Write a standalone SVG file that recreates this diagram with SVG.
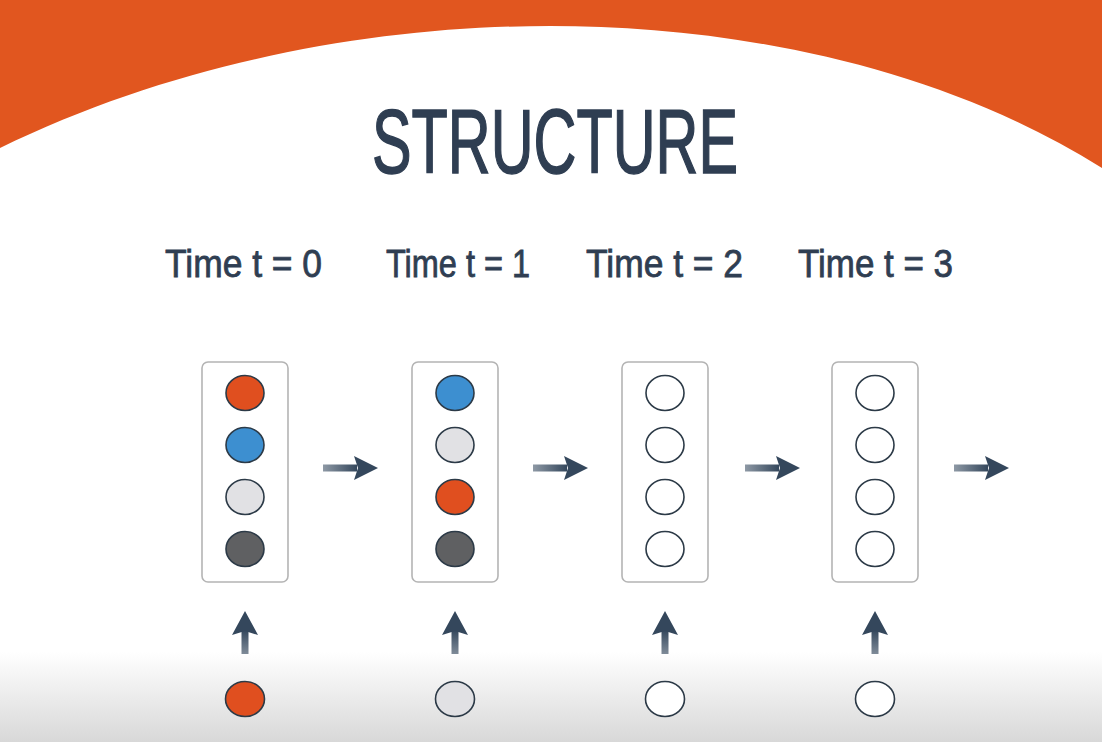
<svg xmlns="http://www.w3.org/2000/svg" width="1102" height="742" viewBox="0 0 1102 742">
<defs>
<style>
.title{font-family:"Liberation Sans",Arial,sans-serif;font-weight:normal;fill:#2F3E52;stroke:#2F3E52;stroke-width:1.5}
.lbl{font-family:"Liberation Sans",Arial,sans-serif;font-weight:normal;font-size:38px;fill:#2F3E52;stroke:#2F3E52;stroke-width:0.8}
.box{fill:#fff;stroke:#B4B4B4;stroke-width:1.6}
.c{stroke:#2C3A47;stroke-width:1.6}
.o{fill:#E04F1F}
.b{fill:#3D8FD0}
.l{fill:#E1E1E4}
.d{fill:#5F6062}
.w{fill:#fff}
.ah{fill:#34475C}
</style>
<linearGradient id="gh" x1="0" y1="0" x2="1" y2="0">
<stop offset="0" stop-color="#8E99A5"/>
<stop offset="1" stop-color="#34475C"/>
</linearGradient>
<linearGradient id="gv" x1="0" y1="0" x2="0" y2="1">
<stop offset="0" stop-color="#34475C"/>
<stop offset="1" stop-color="#7F8B98"/>
</linearGradient>
<linearGradient id="bg" x1="0" y1="0" x2="0" y2="1">
<stop offset="0" stop-color="#ffffff"/>
<stop offset="1" stop-color="#D8D8D8"/>
</linearGradient>
</defs>
<rect x="0" y="0" width="1102" height="742" fill="#fff"/>
<rect x="0" y="652" width="1102" height="90" fill="url(#bg)"/>
<path d="M0,0 H1102 V168 C930,60 720,26 550,26 C380,26 180,60 0,148 Z" fill="#E1561F"/>
<text class="title" x="372" y="173" font-size="90" textLength="366" lengthAdjust="spacingAndGlyphs">STRUCTURE</text>
<g id="labels">
<text class="lbl" x="165" y="277" textLength="157" lengthAdjust="spacingAndGlyphs">Time t = 0</text>
<text class="lbl" x="386" y="277" textLength="144" lengthAdjust="spacingAndGlyphs">Time t = 1</text>
<text class="lbl" x="586" y="277" textLength="157" lengthAdjust="spacingAndGlyphs">Time t = 2</text>
<text class="lbl" x="798" y="277" textLength="155" lengthAdjust="spacingAndGlyphs">Time t = 3</text>
</g>
<g id="state0">
<rect class="box" x="202" y="362" width="86" height="220" rx="6"/>
<ellipse class="c o" cx="245" cy="393" rx="19" ry="17.5"/>
<ellipse class="c b" cx="245" cy="445" rx="19" ry="17.5"/>
<ellipse class="c l" cx="245" cy="497" rx="19" ry="17.5"/>
<ellipse class="c d" cx="245" cy="549" rx="19" ry="17.5"/>
</g>
<g id="state1">
<rect class="box" x="412" y="362" width="86" height="220" rx="6"/>
<ellipse class="c b" cx="455" cy="393" rx="19" ry="17.5"/>
<ellipse class="c l" cx="455" cy="445" rx="19" ry="17.5"/>
<ellipse class="c o" cx="455" cy="497" rx="19" ry="17.5"/>
<ellipse class="c d" cx="455" cy="549" rx="19" ry="17.5"/>
</g>
<g id="state2">
<rect class="box" x="622" y="362" width="86" height="220" rx="6"/>
<ellipse class="c w" cx="665" cy="393" rx="19" ry="17.5"/>
<ellipse class="c w" cx="665" cy="445" rx="19" ry="17.5"/>
<ellipse class="c w" cx="665" cy="497" rx="19" ry="17.5"/>
<ellipse class="c w" cx="665" cy="549" rx="19" ry="17.5"/>
</g>
<g id="state3">
<rect class="box" x="832" y="362" width="86" height="220" rx="6"/>
<ellipse class="c w" cx="875" cy="393" rx="19" ry="17.5"/>
<ellipse class="c w" cx="875" cy="445" rx="19" ry="17.5"/>
<ellipse class="c w" cx="875" cy="497" rx="19" ry="17.5"/>
<ellipse class="c w" cx="875" cy="549" rx="19" ry="17.5"/>
</g>
<g id="input0"><ellipse class="c o" cx="245" cy="699" rx="19.5" ry="17.5"/></g>
<g id="input1"><ellipse class="c l" cx="455" cy="699" rx="19.5" ry="17.5"/></g>
<g id="input2"><ellipse class="c w" cx="665" cy="699" rx="19.5" ry="17.5"/></g>
<g id="input3"><ellipse class="c w" cx="875" cy="699" rx="19.5" ry="17.5"/></g>
<g id="connectors">
<g>
<rect x="323" y="464.5" width="34" height="7" fill="url(#gh)"/>
<path class="ah" d="M354,456 L378,468 L354,480 L358,468 Z"/>
</g>
<g>
<rect x="533" y="464.5" width="34" height="7" fill="url(#gh)"/>
<path class="ah" d="M564,456 L588,468 L564,480 L568,468 Z"/>
</g>
<g>
<rect x="745" y="464.5" width="34" height="7" fill="url(#gh)"/>
<path class="ah" d="M776,456 L800,468 L776,480 L780,468 Z"/>
</g>
<g>
<rect x="954" y="464.5" width="34" height="7" fill="url(#gh)"/>
<path class="ah" d="M985,456 L1009,468 L985,480 L989,468 Z"/>
</g>
<g>
<rect x="241.5" y="630" width="7" height="24" fill="url(#gv)"/>
<path class="ah" d="M232,635 L245,611 L258,635 L245,631 Z"/>
</g>
<g>
<rect x="451.5" y="630" width="7" height="24" fill="url(#gv)"/>
<path class="ah" d="M442,635 L455,611 L468,635 L455,631 Z"/>
</g>
<g>
<rect x="661.5" y="630" width="7" height="24" fill="url(#gv)"/>
<path class="ah" d="M652,635 L665,611 L678,635 L665,631 Z"/>
</g>
<g>
<rect x="871.5" y="630" width="7" height="24" fill="url(#gv)"/>
<path class="ah" d="M862,635 L875,611 L888,635 L875,631 Z"/>
</g>
</g>
</svg>
